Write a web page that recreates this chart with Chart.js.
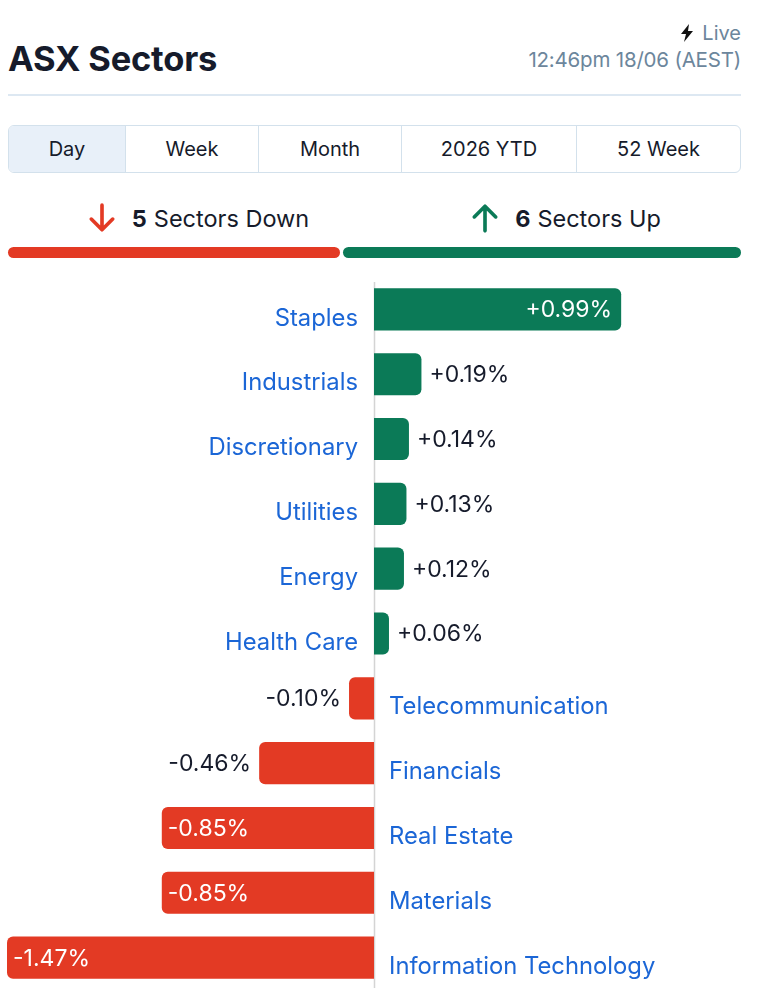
<!DOCTYPE html>
<html>
<head>
<meta charset="utf-8">
<script src="https://cdn.jsdelivr.net/npm/chart.js@4.4.1/dist/chart.umd.min.js"></script>
<style>
  html, body { margin: 0; padding: 0; background: #fff; overflow: hidden; }
  body { width: 768px; height: 988px; position: relative; font-family: Inter, "Noto Sans", sans-serif; color: #161b2b; }
  .titulo { position: absolute; left: 8px; top: 38px; font-size: 34.5px; font-weight: 700; letter-spacing: -0.2px; }
  .live { position: absolute; right: 27px; top: 21px; font-size: 20px; color: #6c869c; }
  .hora { position: absolute; right: 27px; top: 47px; font-size: 20.5px; color: #6c869c; letter-spacing: -0.2px; }
  .linea { position: absolute; left: 8px; width: 733px; top: 94px; height: 2px; background: #dde8f2; }
  .tabs { position: absolute; left: 8px; top: 125px; width: 731px; height: 46px; border: 1.5px solid #d3e1ec; border-radius: 6px; display: flex; overflow: hidden; }
  .tabs div { display: flex; align-items: center; justify-content: center; font-size: 20px; border-right: 1.5px solid #d3e1ec; }
  .tabs div:last-child { border-right: none; }
  .tabs .activo { background: #e8f0f9; }
  .resumen { position: absolute; top: 200px; left: 8px; width: 733px; height: 36px; display: flex; font-size: 23.5px; }
  .resumen div { display: flex; align-items: center; }
  .resumen svg { margin-right: 16px; }
  .barra { position: absolute; top: 247px; left: 8px; width: 733px; height: 11px; display: flex; gap: 3px; }
  .barra div { border-radius: 6px; }
  #contenedor { position: absolute; left: 0; top: 277px; width: 768px; height: 713px; }
</style>
</head>
<body>
<div class="titulo">ASX Sectors</div>
<div class="live"><svg width="14" height="18" viewBox="0 0 14 18" style="vertical-align:-2px;margin-right:8px"><path d="M9 0 L1 10 H6 L4 18 L13 7 H8 Z" fill="#111"/></svg>Live</div>
<div class="hora">12:46pm 18/06 (AEST)</div>
<div class="linea"></div>

<div class="tabs">
  <div class="activo" style="width:116px">Day</div>
  <div style="width:132px">Week</div>
  <div style="width:142px">Month</div>
  <div style="width:174px">2026 YTD</div>
  <div style="flex:1">52 Week</div>
</div>

<div class="resumen">
  <div style="width:366px;justify-content:center;padding-left:16px">
    <svg width="28" height="30" viewBox="0 0 26 28"><path d="M13 2 V25 M3 15 L13 25 L23 15" stroke="#e33a24" stroke-width="3.4" fill="none" stroke-linecap="round" stroke-linejoin="round"/></svg>
    <b id="numBajan" style="margin-right:7px"></b>Sectors Down
  </div>
  <div style="width:367px;justify-content:center;padding-left:18px">
    <svg width="28" height="30" viewBox="0 0 26 28"><path d="M13 26 V3 M3 13 L13 3 L23 13" stroke="#0b7a57" stroke-width="3.4" fill="none" stroke-linecap="round" stroke-linejoin="round"/></svg>
    <b id="numSuben" style="margin-right:7px"></b>Sectors Up
  </div>
</div>
<div class="barra">
  <div id="barraRoja" style="background:#e33a24"></div>
  <div id="barraVerde" style="background:#0b7a57"></div>
</div>

<div id="contenedor"><canvas id="chartSectores"></canvas></div>

<script>
// Datos (variación diaria en %)
const sectores = ['Staples', 'Industrials', 'Discretionary', 'Utilities', 'Energy', 'Health Care',
                  'Telecommunication', 'Financials', 'Real Estate', 'Materials', 'Information Technology'];
const variaciones = [0.99, 0.19, 0.14, 0.13, 0.12, 0.06, -0.10, -0.46, -0.85, -0.85, -1.47];

const VERDE = '#0b7a57';
const ROJO = '#e33a24';
const AZUL = '#1b66d6';
const OSCURO = '#161b2b';

// Conteo de sectores que suben / bajan
const bajan = variaciones.filter(v => v < 0).length;
const suben = variaciones.filter(v => v > 0).length;
document.getElementById('numBajan').textContent = bajan;
document.getElementById('numSuben').textContent = suben;
document.getElementById('barraRoja').style.flex = bajan;
document.getElementById('barraVerde').style.flex = suben;

const limite = Math.max(...variaciones.map(v => Math.abs(v)));

const formato = v => (v > 0 ? '+' : '') + v.toFixed(2) + '%';

// Plugin para dibujar la línea del cero, nombres de sector y etiquetas de valor
const etiquetasPlugin = {
    id: 'etiquetas',
    beforeDatasetsDraw(chart) {
        const { ctx, chartArea, scales } = chart;
        const x0 = Math.round(scales.x.getPixelForValue(0)) + 0.5;
        ctx.save();
        ctx.strokeStyle = '#d4d4d4';
        ctx.lineWidth = 1.5;
        ctx.beginPath();
        ctx.moveTo(x0, chartArea.top + 5);
        ctx.lineTo(x0, chartArea.bottom);
        ctx.stroke();
        ctx.restore();
    },
    afterDatasetsDraw(chart) {
        const { ctx, scales } = chart;
        const meta = chart.getDatasetMeta(0);
        const x0 = scales.x.getPixelForValue(0);
        ctx.save();
        meta.data.forEach((barra, i) => {
            const v = variaciones[i];
            const y = barra.y;
            // nombre del sector al lado opuesto de la barra
            ctx.font = '400 23.8px Inter, "Noto Sans", sans-serif';
            ctx.fillStyle = AZUL;
            ctx.textBaseline = 'middle';
            if (v >= 0) {
                ctx.textAlign = 'right';
                ctx.fillText(sectores[i], x0 - 16, y + 9);
            } else {
                ctx.textAlign = 'left';
                ctx.fillText(sectores[i], x0 + 15, y + 9);
            }
            // etiqueta de valor
            ctx.font = '400 23px Inter, "Noto Sans", sans-serif';
            const texto = formato(v);
            const ancho = ctx.measureText(texto).width;
            const largo = Math.abs(barra.x - x0);
            const dentro = largo > ancho + 50;
            if (v >= 0) {
                if (dentro) {
                    ctx.fillStyle = '#fff';
                    ctx.textAlign = 'right';
                    ctx.fillText(texto, barra.x - 9, y + 1);
                } else {
                    ctx.fillStyle = OSCURO;
                    ctx.textAlign = 'left';
                    ctx.fillText(texto, barra.x + 8, y + 1);
                }
            } else {
                if (dentro) {
                    ctx.fillStyle = '#fff';
                    ctx.textAlign = 'left';
                    ctx.fillText(texto, barra.x + 6, y + 1);
                } else {
                    ctx.fillStyle = OSCURO;
                    ctx.textAlign = 'right';
                    ctx.fillText(texto, barra.x - 8, y + 1);
                }
            }
        });
        ctx.restore();
    }
};

new Chart(document.getElementById('chartSectores'), {
    type: 'bar',
    data: {
        labels: sectores,
        datasets: [{
            data: variaciones,
            backgroundColor: variaciones.map(v => v >= 0 ? VERDE : ROJO),
            borderRadius: 6,
            borderSkipped: 'start',
            barPercentage: 1,
            categoryPercentage: 0.65
        }]
    },
    options: {
        indexAxis: 'y',
        responsive: true,
        maintainAspectRatio: false,
        animation: false,
        layout: { padding: { left: 7, right: 27, top: 0, bottom: 0 } },
        plugins: { legend: { display: false }, tooltip: { enabled: false } },
        scales: {
            x: { display: false, min: -limite, max: limite },
            y: { display: false }
        }
    },
    plugins: [etiquetasPlugin]
});
</script>
</body>
</html>
